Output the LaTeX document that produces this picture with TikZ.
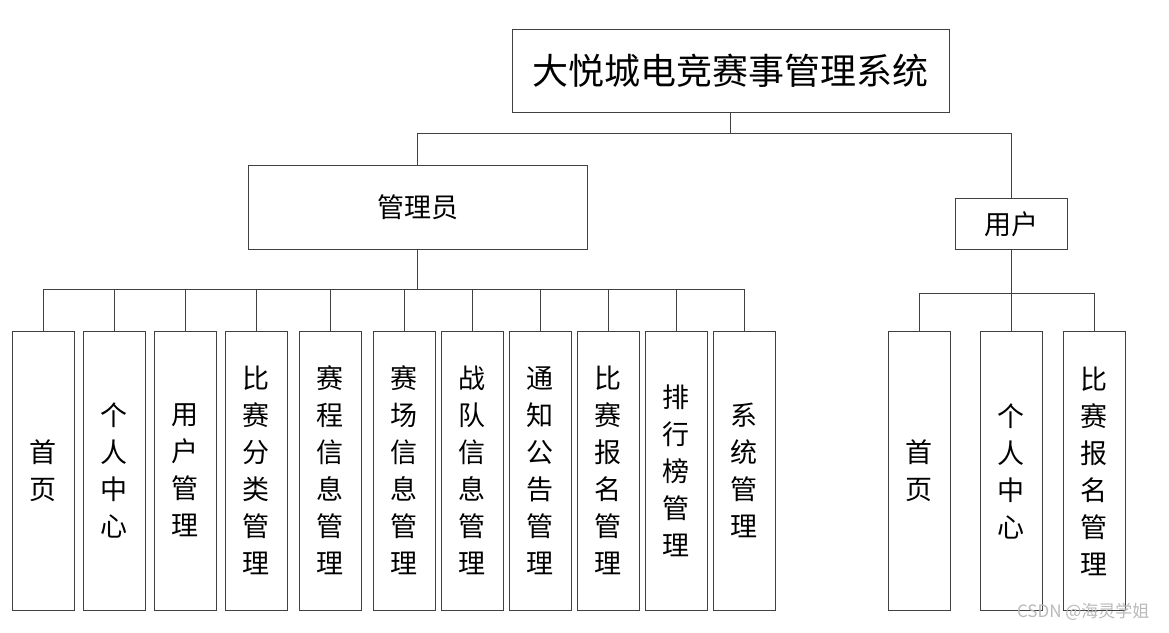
\documentclass[tikz,border=0pt]{standalone}
\usepackage{fontspec}
\setmainfont{Noto Sans CJK SC}
\usetikzlibrary{positioning}
\tikzset{
  blk/.style={draw=black!75,rectangle,line width=0.8pt,inner sep=0pt,align=center},
  sysblk/.style={blk,minimum width=437pt,minimum height=83pt,font=\fontsize{36}{40}\selectfont},
  rolblk/.style={blk,font=\fontsize{27}{32}\selectfont},
  leafblk/.style={blk,minimum width=62pt,minimum height=279pt,font=\fontsize{27}{37}\selectfont},
  conn/.style={draw=black!75,line width=0.8pt},
  wmark/.style={font=\fontsize{17}{20}\selectfont,text=gray!55}
}

\begin{document}
\begin{tikzpicture}[x=1pt,y=-1pt]
  \useasboundingbox (0,0) rectangle (1169,632);

  \node[sysblk] (sys) at (730.5,70.5) {大悦城电竞赛事管理系统};
  \node[rolblk,minimum width=339pt,minimum height=84pt] (adm) at (417.5,207) {管理员};
  \node[rolblk,minimum width=112pt,minimum height=51pt] (usr) at (1011,224) {用户};

  % admin leaves
  \node[leafblk] (a1) at (43,470.5) {首\\页};
  \node[leafblk] (a2) at (114,470.5) {个\\人\\中\\心};
  \node[leafblk] (a3) at (185,470.5) {用\\户\\管\\理};
  \node[leafblk] (a4) at (256,470.5) {比\\赛\\分\\类\\管\\理};
  \node[leafblk] (a5) at (330,470.5) {赛\\程\\信\\息\\管\\理};
  \node[leafblk] (a6) at (404,470.5) {赛\\场\\信\\息\\管\\理};
  \node[leafblk] (a7) at (472,470.5) {战\\队\\信\\息\\管\\理};
  \node[leafblk] (a8) at (540,470.5) {通\\知\\公\\告\\管\\理};
  \node[leafblk] (a9) at (608,470.5) {比\\赛\\报\\名\\管\\理};
  \node[leafblk] (a10) at (676,470.5) {排\\行\\榜\\管\\理};
  \node[leafblk] (a11) at (744,470.5) {系\\统\\管\\理};

  % user leaves
  \node[leafblk] (u1) at (919,471) {首\\页};
  \node[leafblk] (u2) at (1011,471) {个\\人\\中\\心};
  \node[leafblk] (u3) at (1094,471) {比\\赛\\报\\名\\管\\理};

  \node[wmark,anchor=east] (wm) at (1153,612) {CSDN @海灵学姐};

  \draw[conn] (sys.south) -- ++(0,21) -| (adm.north);
  \draw[conn] (sys.south) -- ++(0,21) -| (usr.north);

  \draw[conn] (adm.south) -- ++(0,40) -| (a1.north);
  \draw[conn] (adm.south) -- ++(0,40) -| (a2.north);
  \draw[conn] (adm.south) -- ++(0,40) -| (a3.north);
  \draw[conn] (adm.south) -- ++(0,40) -| (a4.north);
  \draw[conn] (adm.south) -- ++(0,40) -| (a5.north);
  \draw[conn] (adm.south) -- ++(0,40) -| (a6.north);
  \draw[conn] (adm.south) -- ++(0,40) -| (a7.north);
  \draw[conn] (adm.south) -- ++(0,40) -| (a8.north);
  \draw[conn] (adm.south) -- ++(0,40) -| (a9.north);
  \draw[conn] (adm.south) -- ++(0,40) -| (a10.north);
  \draw[conn] (adm.south) -- ++(0,40) -| (a11.north);

  \draw[conn] (usr.south) -- ++(0,43) -| (u1.north);
  \draw[conn] (usr.south) -- (u2.north);
  \draw[conn] (usr.south) -- ++(0,43) -| (u3.north);
\end{tikzpicture}
\end{document}
